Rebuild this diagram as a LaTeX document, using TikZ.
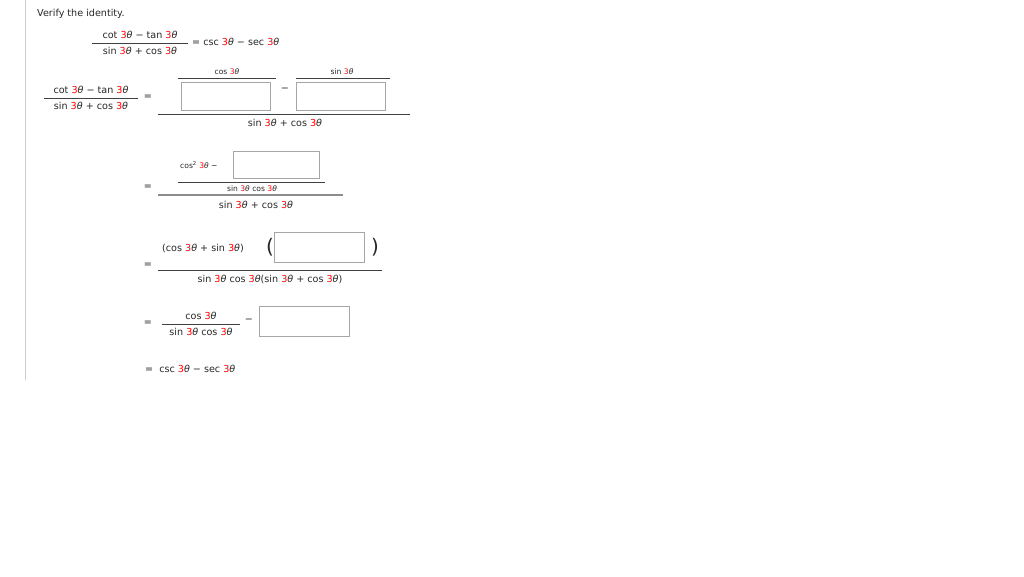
\documentclass[tikz,border=0pt]{standalone}
\usepackage{fontspec}
\setmainfont{DejaVu Sans}
\newcommand{\tth}{{\color{red}3}{\itshape θ}}
\begin{document}
\begin{tikzpicture}[x=1pt,y=-1pt,
  txt/.style={inner sep=0pt,font=\fontsize{9.6}{11}\selectfont,text=black!85},
  sm/.style={inner sep=0pt,font=\fontsize{7.6}{9}\selectfont,text=black!85},
  bar/.style={black!75,line width=0.8pt},
  ibox/.style={draw=black!35,line width=1pt,fill=white}]
\useasboundingbox (0,0) rectangle (1024,576);
\draw[black!20,line width=1pt] (25,0) -- (25,380);
\node[txt,anchor=west] (title) at (37,14) {Verify the identity.};
% first identity
\node[txt] (n1) at (140,35) {cot \tth{} − tan \tth};
\draw[bar] (92,43) -- (188,43);
\node[txt] (d1) at (140,51) {sin \tth{} + cos \tth};
\node[txt,anchor=west] (r1) at (192,42) {= csc \tth{} − sec \tth};
% step 1
\node[txt] (n2) at (91,90) {cot \tth{} − tan \tth};
\draw[bar] (44,98) -- (138,98);
\node[txt] (d2) at (91,106) {sin \tth{} + cos \tth};
\node[txt] (e2) at (148,97) {=};
\node[sm] (c2) at (227,72) {cos \tth};
\draw[bar] (178,78) -- (276,78);
\node[ibox,minimum width=89pt,minimum height=28pt] (b2a) at (225.5,96) {};
\node[txt] (m2) at (285,90) {−};
\node[sm] (s2) at (342,72) {sin \tth};
\draw[bar] (296,78) -- (390,78);
\node[ibox,minimum width=89pt,minimum height=28pt] (b2b) at (340.5,96) {};
\draw[bar] (158,114) -- (410,114);
\node[txt] (dd2) at (285,123) {sin \tth{} + cos \tth};
% step 2
\node[sm,anchor=west] (c3) at (180,165) {cos\textsuperscript{2} \tth{} −};
\node[ibox,minimum width=86pt,minimum height=27pt] (b3) at (276,164.5) {};
\draw[bar] (178,182) -- (325,182);
\node[sm] (s3) at (252,189) {sin \tth{} cos \tth};
\draw[black!45,line width=1.2pt] (158,195) -- (343,195);
\node[txt] (dd3) at (256,205) {sin \tth{} + cos \tth};
\node[txt] (e3) at (148,187) {=};
% step 3
\node[txt,anchor=west] (n4) at (162,248) {(cos \tth{} + sin \tth)};
\node[inner sep=0pt,text=black!85,font=\fontsize{20}{22}\selectfont] (lp) at (270,247) {(};
\node[ibox,minimum width=90pt,minimum height=30pt] (b4) at (319,247) {};
\node[inner sep=0pt,text=black!85,font=\fontsize{20}{22}\selectfont] (rp) at (375,247) {)};
\draw[bar] (158,270) -- (382,270);
\node[txt] (dd4) at (270,279) {sin \tth{} cos \tth(sin \tth{} + cos \tth)};
\node[txt] (e4) at (148,265) {=};
% step 4
\node[txt] (e5) at (148,323) {=};
\node[txt] (n5) at (201,316) {cos \tth};
\draw[bar] (162,324) -- (240,324);
\node[txt] (d5) at (201,332) {sin \tth{} cos \tth};
\node[txt] (m5) at (249,321) {−};
\node[ibox,minimum width=90pt,minimum height=30pt] (b5) at (304,321) {};
% final
\node[txt,anchor=west] (f) at (145,369) {= \ csc \tth{} − sec \tth};
\end{tikzpicture}
\end{document}
